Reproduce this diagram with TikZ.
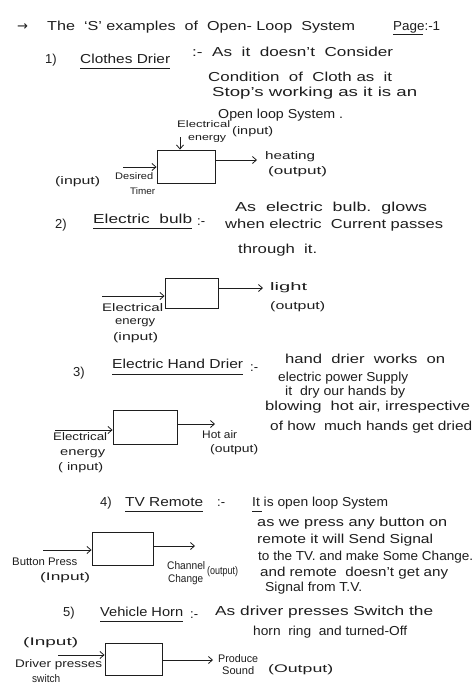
\documentclass[tikz,border=0pt]{standalone}
\usepackage{fontspec}
\usepackage{graphicx}
\setmainfont{Liberation Sans}
\newfontfamily\symfont{DejaVu Sans}
\usetikzlibrary{arrows.meta}
\definecolor{ink}{HTML}{1E1E1E}
\newcommand\fw[2]{\resizebox{#1pt}{\height}{#2}}
\begin{document}
\begin{tikzpicture}[x=1pt,y=-1pt,
  txt/.style={anchor=west, inner sep=0pt, text=ink, font=\fontsize{13}{15}\selectfont, text height=10pt, text depth=3pt},
  sm/.style={txt, font=\fontsize{11}{13}\selectfont, text height=8pt, text depth=2.5pt},
  xs/.style={txt, font=\fontsize{9.5}{11}\selectfont, text height=7pt, text depth=2pt},
  blk/.style={draw=ink, line width=0.9pt, inner sep=0pt},
  arr/.style={draw=ink, line width=0.8pt, -{Straight Barb[length=4pt,width=7pt]}},
  ul/.style={draw=ink, line width=0.8pt}]
\fill[white] (0,0) rectangle (474,689);
\useasboundingbox (0,0) rectangle (474,689);

% title
\node[txt] (tarr) at (17,27) {\symfont →};
\node[txt] (title) at (47,27) {\fw{308}{The\ \ ‘S’ examples\ \ of\ \ Open- Loop\ \ System}};
\node[txt] (page) at (393,27) {\fw{47}{Page:-1}};
\draw[ul] ([yshift=-1pt]page.south west) -- ++(30,0);

% 1
\node[txt] (n1) at (45,60) {1)};
\node[txt] (h1) at (80,60) {\fw{90}{Clothes Drier}};
\draw[ul] ([yshift=-1.5pt]h1.south west) -- ([yshift=-1.5pt]h1.south east);
\node[txt] (p1a) at (192,53) {\fw{201}{:-\ \ As\ \ it\ \ doesn't\ \ Consider}};
\node[txt] (p1b) at (208,78) {\fw{184}{Condition\ \ of\ \ Cloth as\ \ it}};
\node[txt] (p1c) at (212,93) {\fw{205}{Stop's working as it is an}};
\node[txt] (p1d) at (218,115) {\fw{125}{Open loop System .}};
\node[blk, minimum width=58pt, minimum height=33pt] (b1) at (186,166.5) {};
\node[xs] (e1a) at (177,125) {\fw{53}{Electrical}};
\node[xs] (e1b) at (188,138) {\fw{38}{energy}};
\node[sm] (e1c) at (232,132) {\fw{41}{(input)}};
\coordinate (d1) at (180,137);
\draw[arr] (d1) -- (d1 |- b1.north);
\node[sm] (i1a) at (55,182) {\fw{45}{(input)}};
\node[xs] (i1b) at (115,177) {\fw{38}{Desired}};
\node[xs] (i1c) at (130,192) {\fw{25}{Timer}};
\coordinate (a1) at (123,167);
\draw[arr] (a1) -- (a1 -| b1.west);
\coordinate (c1) at (257,160);
\draw[arr] (c1 -| b1.east) -- (c1);
\node[sm] (o1a) at (265,157) {\fw{50}{heating}};
\node[sm] (o1b) at (268,172) {\fw{59}{(output)}};

% 2
\node[txt] (n2) at (55,225) {2)};
\node[txt] (h2) at (93,220) {\fw{99}{Electric\ \ bulb}};
\draw[ul] ([yshift=-1.5pt]h2.south west) -- ([yshift=-1.5pt]h2.south east);
\node[txt] (s2) at (197,222) {:-};
\node[txt] (p2a) at (235,208) {\fw{192}{As\ \ electric\ \ bulb.\ \ glows}};
\node[txt] (p2b) at (225,225) {\fw{218}{when electric\ \ Current passes}};
\node[txt] (p2c) at (238,250) {\fw{79}{through\ \ it.}};
\node[blk, minimum width=53pt, minimum height=30pt] (b2) at (191.5,293) {};
\coordinate (a2) at (102,296);
\draw[arr] (a2) -- (a2 -| b2.west);
\coordinate (c2) at (263,288);
\draw[arr] (c2 -| b2.east) -- (c2);
\node[sm] (i2a) at (102,309) {\fw{61}{Electrical}};
\node[sm] (i2b) at (115,322) {\fw{40}{energy}};
\node[sm] (i2c) at (113,338) {\fw{45}{(input)}};
\node[sm] (o2a) at (270,288) {\fw{37}{light}};
\node[sm] (o2b) at (270,307) {\fw{55}{(output)}};

% 3
\node[txt] (n3) at (73,373) {3)};
\node[txt] (h3) at (112,365) {\fw{131}{Electric Hand Drier}};
\draw[ul] ([yshift=-3pt]h3.south west) -- ([yshift=-3pt]h3.south east);
\node[txt] (s3) at (250,368) {:-};
\node[txt] (p3a) at (285,360) {\fw{160}{hand\ \ drier\ \ works\ \ on}};
\node[txt] (p3b) at (278,378) {\fw{130}{electric power Supply}};
\node[txt] (p3c) at (285,392) {\fw{120}{it\ \ dry our hands by}};
\node[txt] (p3d) at (265,407) {\fw{205}{blowing\ \ hot air, irrespective}};
\node[txt] (p3e) at (270,427) {\fw{202}{of how\ \ much hands get dried}};
\node[blk, minimum width=64pt, minimum height=34pt] (b3) at (145,427) {};
\coordinate (a3) at (55,430);
\draw[arr] (a3) -- (a3 -| b3.west);
\coordinate (c3) at (215,424);
\draw[arr] (c3 -| b3.east) -- (c3);
\node[sm] (i3a) at (53,438) {\fw{54}{Electrical}};
\node[sm] (i3b) at (60,453) {\fw{45}{energy}};
\node[sm] (i3c) at (58,468) {\fw{45}{( input)}};
\node[sm] (o3a) at (202,436) {\fw{35}{Hot air}};
\node[sm] (o3b) at (210,450) {\fw{48}{(output)}};

% 4
\node[txt] (n4) at (100,503) {4)};
\node[txt] (h4) at (125,503) {\fw{78}{TV Remote}};
\draw[ul] ([yshift=-1.5pt]h4.south west) -- ([yshift=-1.5pt]h4.south east);
\node[txt] (s4) at (217,503) {:-};
\node[txt] (p4a) at (252,503) {\fw{136}{It is open loop System}};
\draw[ul] ([yshift=-1.5pt]p4a.south west) -- ++(10,0);
\node[txt] (p4b) at (257,523) {\fw{190}{as we press any button on}};
\node[txt] (p4c) at (257,540) {\fw{176}{remote it will Send Signal}};
\node[txt] (p4d) at (258,557) {\fw{215}{to the TV. and make Some Change.}};
\node[txt] (p4e) at (260,573) {\fw{188}{and remote\ \ doesn't get any}};
\node[txt] (p4f) at (265,588) {\fw{97}{Signal from T.V.}};
\node[blk, minimum width=61pt, minimum height=33pt] (b4) at (122.5,548.5) {};
\coordinate (a4) at (43,550);
\draw[arr] (a4) -- (a4 -| b4.west);
\coordinate (c4) at (195,546);
\draw[arr] (c4 -| b4.east) -- (c4);
\node[sm] (i4a) at (12,563) {\fw{65}{Button Press}};
\node[sm] (i4b) at (40,578) {\fw{50}{(Input)}};
\node[sm] (o4a) at (167,567) {\fw{38}{Channel}};
\node[sm] (o4b) at (168,580) {\fw{35}{Change}};
\node[sm] (o4c) at (207,572) {\fw{31}{(output)}};

% 5
\node[txt] (n5) at (63,613) {5)};
\node[txt] (h5) at (100,613) {\fw{83}{Vehicle Horn}};
\draw[ul] ([yshift=-1.5pt]h5.south west) -- ([yshift=-1.5pt]h5.south east);
\node[txt] (s5) at (190,615) {:-};
\node[txt] (p5a) at (215,612) {\fw{218}{As driver presses Switch the}};
\node[txt] (p5b) at (253,632) {\fw{154}{horn\ \ ring\ \ and turned-Off}};
\node[blk, minimum width=57pt, minimum height=32pt] (b5) at (133.5,659) {};
\coordinate (a5) at (58,655);
\draw[arr] (a5) -- (a5 -| b5.west);
\coordinate (c5) at (213,660);
\draw[arr] (c5 -| b5.east) -- (c5);
\node[sm] (i5a) at (23,643) {\fw{55}{(Input)}};
\node[sm] (i5b) at (15,665) {\fw{87}{Driver presses}};
\node[sm] (i5c) at (32,680) {\fw{28}{switch}};
\node[sm] (o5a) at (218,660) {\fw{40}{Produce}};
\node[sm] (o5b) at (222,672) {\fw{32}{Sound}};
\node[sm] (o5c) at (268,670) {\fw{65}{(Output)}};
\end{tikzpicture}
\end{document}
